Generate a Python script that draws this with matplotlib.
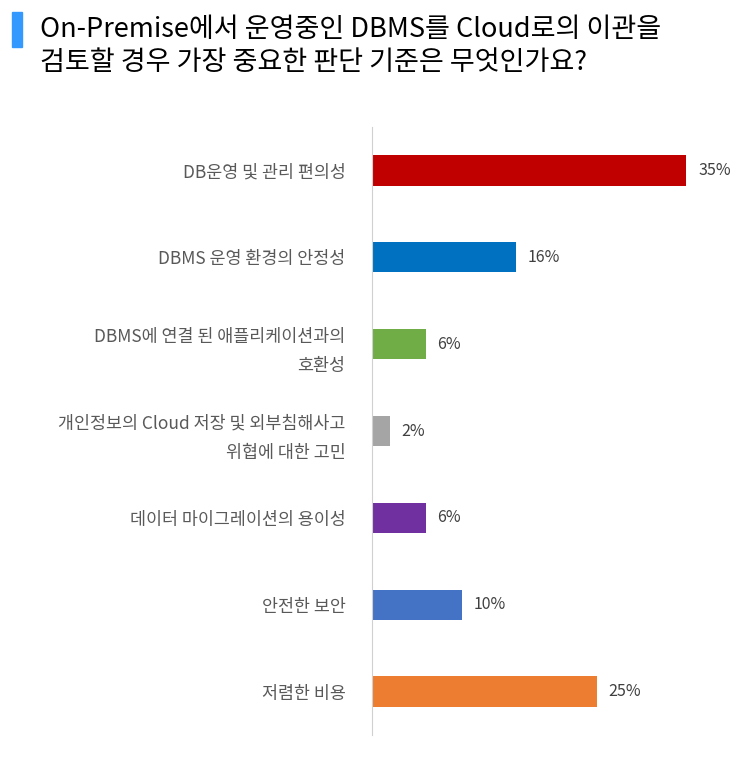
import matplotlib.pyplot as plt
from matplotlib.patches import Rectangle

plt.rcParams['font.family'] = ['Noto Sans CJK KR', 'DejaVu Sans']

categories = ['DB운영 및 관리 편의성', 'DBMS 운영 환경의 안정성', 'DBMS에 연결 된 애플리케이션과의\n호환성',
              '개인정보의 Cloud 저장 및 외부침해사고\n위협에 대한 고민', '데이터 마이그레이션의 용이성',
              '안전한 보안', '저렴한 비용']
values = [35, 16, 6, 2, 6, 10, 25]
colors = ['#c00000', '#0070c0', '#70ad47', '#a5a5a5', '#7030a0', '#4472c4', '#ed7d31']

fig = plt.figure(figsize=(7.51, 7.57), dpi=100)
ax = fig.add_axes([372/751, 1-735/757, 1-372/751, 608/757])
ypos = list(range(len(values)))
ax.barh(ypos, values, height=0.35, color=colors)
ax.set_ylim(len(values)-0.5, -0.5)
ax.set_xlim(0, 42.2)
for y, v in zip(ypos, values):
    ax.text(v + 1.3, y, f'{v}%', va='center', ha='left', fontsize=11.5, color='#404040')
ax.set_yticks(ypos)
ax.set_yticklabels(categories, fontsize=12.5, color='#595959', linespacing=1.8)
ax.tick_params(axis='y', length=0, pad=19)
ax.set_xticks([])
for s in ['top', 'right', 'bottom']:
    ax.spines[s].set_visible(False)
ax.spines['left'].set_color('#d0d0d0')

fig.patches.append(Rectangle((12/751, 1-47/757), 10/751, 35/757, transform=fig.transFigure,
                             color='#3399ff'))
fig.text(40/751, 1-46/757, 'On-Premise에서 운영중인 DBMS를 Cloud로의 이관을\n검토할 경우 가장 중요한 판단 기준은 무엇인가요?',
         fontsize=19.5, va='center', ha='left', color='black', linespacing=1.25)
plt.savefig('out.png', dpi=100)
